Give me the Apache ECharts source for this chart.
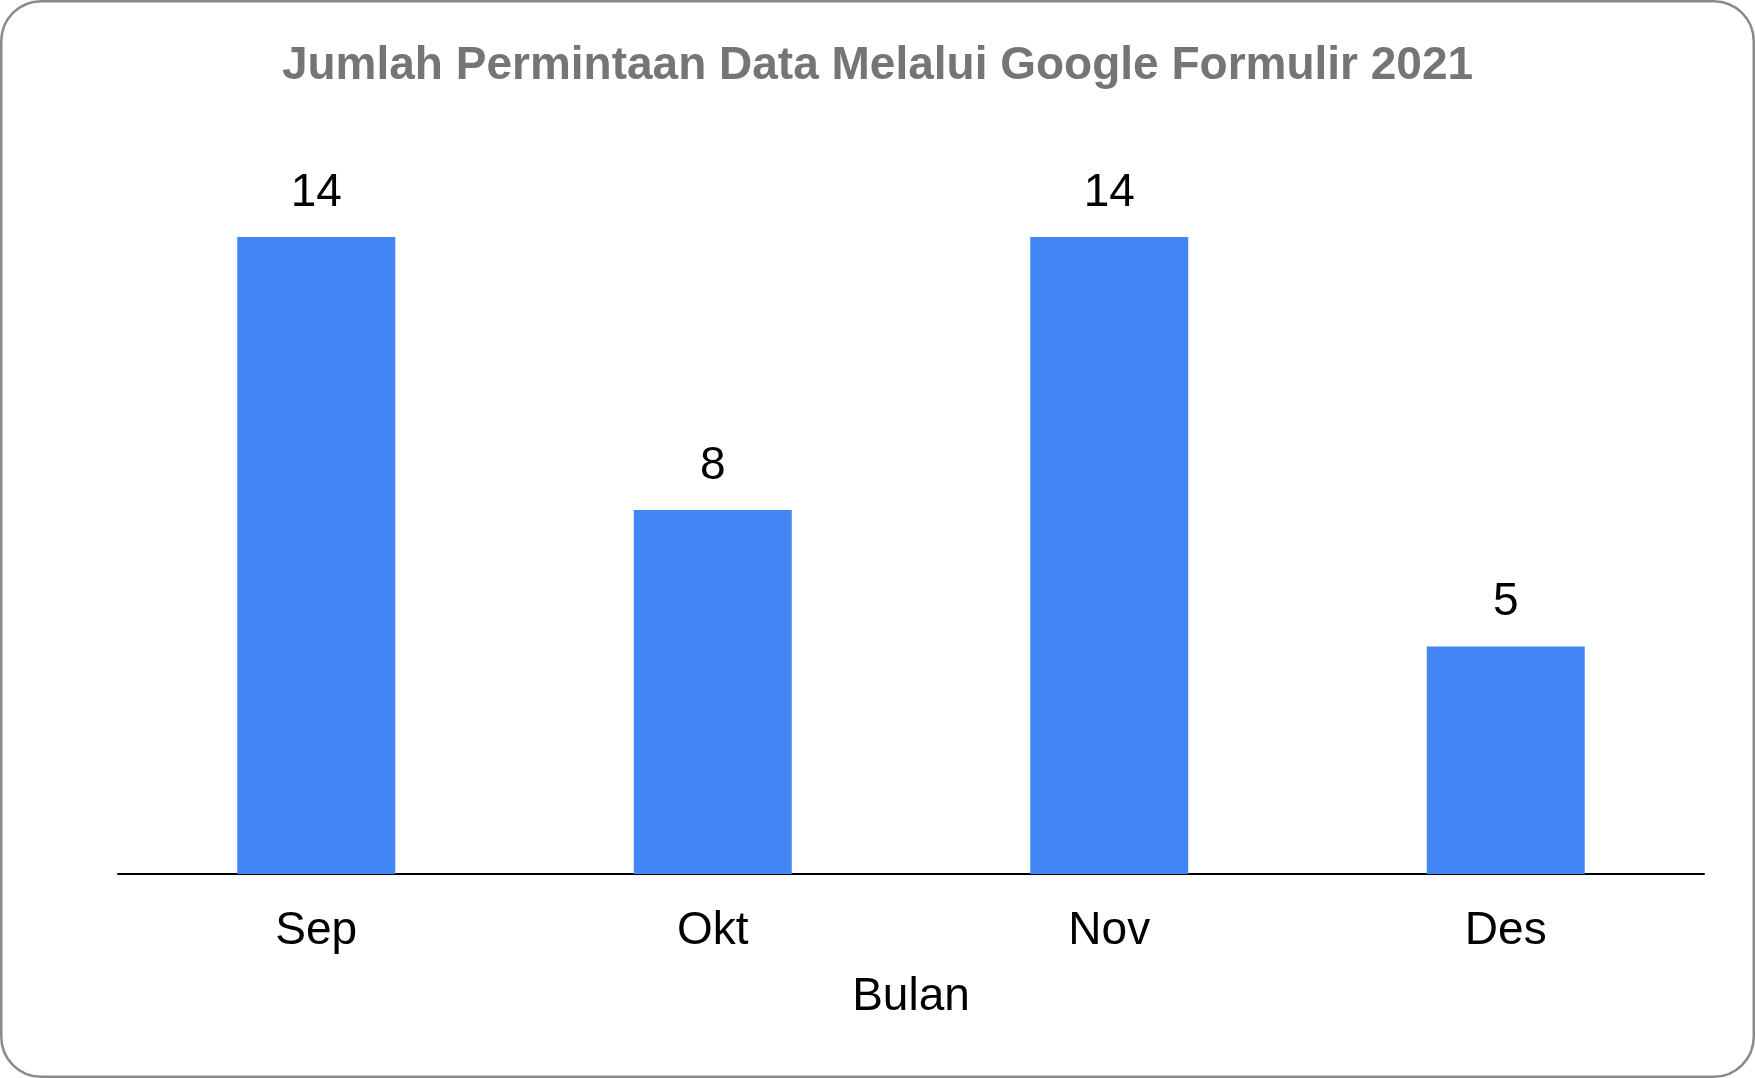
<!DOCTYPE html>
<html>
<head>
<meta charset="utf-8">
<script src="https://cdn.jsdelivr.net/npm/echarts@6/dist/echarts.min.js"></script>
<style>
html,body{margin:0;padding:0;background:#fff;}
#chart{width:1755px;height:1078px;}
</style>
</head>
<body>
<div id="chart"></div>
<script>
const titleText = 'Jumlah Permintaan Data Melalui Google Formulir 2021';
const categories = ['Sep', 'Okt', 'Nov', 'Des'];
const values = [14, 8, 14, 5];
const axisName = 'Bulan';

const chart = echarts.init(document.getElementById('chart'), null, {renderer: 'canvas'});
chart.setOption({
  backgroundColor: '#fff',
  animation: false,
  textStyle: {fontFamily: 'Arial, "Liberation Sans", sans-serif'},
  graphic: [{
    type: 'rect',
    shape: {x: 1.25, y: 1.25, width: 1752.5, height: 1075.5, r: 40},
    style: {fill: 'none', stroke: '#8a8a8a', lineWidth: 2.5},
    silent: true, z: -1
  }],
  title: {
    text: titleText,
    left: 'center',
    top: 38,
    textStyle: {fontSize: 46, fontWeight: 'bold', color: '#757575', fontFamily: 'Arial, "Liberation Sans", sans-serif'}
  },
  grid: {left: 118, right: 51, top: 146, bottom: 204, containLabel: false},
  xAxis: {
    type: 'category',
    data: categories,
    name: axisName,
    nameLocation: 'middle',
    nameGap: 100,
    nameTextStyle: {fontSize: 46, color: '#000'},
    axisLine: {show: true, lineStyle: {color: '#000', width: 2}},
    axisTick: {show: false},
    axisLabel: {fontSize: 46, color: '#000', margin: 34},
    splitLine: {show: false}
  },
  yAxis: {
    type: 'value',
    min: 0,
    max: 16,
    show: false,
    splitLine: {show: false}
  },
  series: [{
    type: 'bar',
    data: values,
    barWidth: 158,
    itemStyle: {color: '#4285F4'},
    label: {show: true, position: 'top', distance: 21, fontSize: 46, color: '#000'}
  }]
});
</script>
</body>
</html>
